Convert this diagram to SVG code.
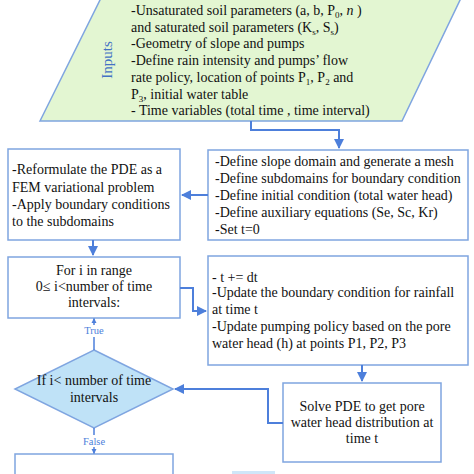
<svg xmlns="http://www.w3.org/2000/svg" width="474" height="474" viewBox="0 0 474 474">
<defs>
<style>
.box{fill:#ffffff;stroke:#7fa5e0;stroke-width:1.5}
.t{font-family:"Liberation Serif","Times New Roman",serif;font-size:14px;fill:#111}
.c{text-anchor:middle}
.sub{font-size:9px}
.conn{fill:none;stroke:#4d7fdb;stroke-width:2}
.thin{fill:none;stroke:#4d7fdb;stroke-width:1.5}
.lbl{font-family:"Liberation Serif","Times New Roman",serif;font-size:10.5px;fill:#4d7fdb;text-anchor:middle}
</style>
<marker id="ah" viewBox="0 0 10 10" refX="9" refY="5" markerWidth="5" markerHeight="5" orient="auto"><path d="M0,0 L10,5 L0,10 z" fill="#4d7fdb"/></marker>
<marker id="ahs" viewBox="0 0 10 10" refX="9" refY="5" markerWidth="3.5" markerHeight="3.5" orient="auto"><path d="M0,0 L10,5 L0,10 z" fill="#4d7fdb"/></marker>
</defs>

<g id="inputs">
<path d="M40,121 L102,-4 L462,-4 L402,121 Z" fill="#e3f6d2" stroke="#7fa5e0" stroke-width="1.5"/>
<text transform="translate(112,60) rotate(-90)" font-family="Liberation Serif, serif" font-size="15" fill="#4472c4" text-anchor="middle">Inputs</text>
<text class="t" x="131" y="15">-Unsaturated soil parameters (a, b, P<tspan class="sub" dy="3">0</tspan><tspan dy="-3">, </tspan><tspan font-style="italic">n</tspan> )</text>
<text class="t" x="131" y="32">and saturated soil parameters (K<tspan class="sub" dy="3">s</tspan><tspan dy="-3">, S</tspan><tspan class="sub" dy="3">s</tspan><tspan dy="-3">)</tspan></text>
<text class="t" x="131" y="48">-Geometry of slope and pumps</text>
<text class="t" x="131" y="65">-Define rain intensity and pumps’ flow</text>
<text class="t" x="131" y="82">rate policy, location of points P<tspan class="sub" dy="3">1</tspan><tspan dy="-3">, P</tspan><tspan class="sub" dy="3">2</tspan><tspan dy="-3"> and</tspan></text>
<text class="t" x="131" y="99">P<tspan class="sub" dy="3">3</tspan><tspan dy="-3">, initial water table</tspan></text>
<text class="t" x="131" y="115">- Time variables (total time , time interval)</text>
</g>

<g id="setup">
<rect class="box" x="208" y="150" width="260" height="90"/>
<text class="t" x="215" y="166">-Define slope domain and generate a mesh</text>
<text class="t" x="215" y="183">-Define subdomains for boundary condition</text>
<text class="t" x="215" y="200">-Define initial condition (total water head)</text>
<text class="t" x="215" y="217">-Define auxiliary equations (Se, Sc, Kr)</text>
<text class="t" x="215" y="234">-Set t=0</text>
</g>

<g id="reformulate">
<rect class="box" x="8" y="149" width="172" height="91"/>
<text class="t" x="12" y="174">-Reformulate the PDE as a</text>
<text class="t" x="12" y="192">FEM variational problem</text>
<text class="t" x="12" y="209">-Apply boundary conditions</text>
<text class="t" x="12" y="226">to the subdomains</text>
</g>

<g id="loop">
<rect class="box" x="8" y="257" width="172" height="61"/>
<text class="t c" x="94" y="275">For i in range</text>
<text class="t c" x="94" y="291">0≤ i&lt;number of time</text>
<text class="t c" x="94" y="307">intervals:</text>
</g>

<g id="update">
<rect class="box" x="208" y="256" width="260" height="109"/>
<text class="t" x="212" y="282">- t += dt</text>
<text class="t" x="212" y="297">-Update the boundary condition for rainfall</text>
<text class="t" x="212" y="314">at time t</text>
<text class="t" x="212" y="331">-Update pumping policy based on the pore</text>
<text class="t" x="212" y="348">water head (h) at points P1, P2, P3</text>
</g>

<g id="solve">
<rect class="box" x="283" y="383" width="158" height="79"/>
<text class="t c" x="362" y="411">Solve PDE to get pore</text>
<text class="t c" x="362" y="427">water head distribution at</text>
<text class="t c" x="362" y="443">time t</text>
</g>

<g id="decision">
<path d="M94,350 L173,389 L94,428 L15,389 Z" fill="#bfe2f7" stroke="#7fa5e0" stroke-width="1.5"/>
<text class="t c" x="94" y="385">If i&lt; number of time</text>
<text class="t c" x="94" y="402">intervals</text>
</g>

<g id="end">
<rect class="box" x="15" y="454" width="158" height="30"/>
<rect x="232" y="471" width="43" height="6" fill="#cfe6f8"/>
</g>

<g id="connectors">
<path class="conn" d="M251,121 V130 H339 V148" marker-end="url(#ah)"/>
<path class="conn" d="M208,195 H182" marker-end="url(#ah)"/>
<path class="conn" d="M93,240 V255" marker-end="url(#ah)"/>
<path class="conn" d="M180,288 H193 V311 H206" marker-end="url(#ah)"/>
<path class="conn" d="M362,365 V381" marker-end="url(#ah)"/>
<path class="conn" d="M283,423 H268 V389 H175" marker-end="url(#ah)"/>
<path class="thin" d="M94,350 V337"/>
<path class="thin" d="M94,325 V318.5" marker-end="url(#ahs)"/>
<text class="lbl" x="94" y="334">True</text>
<path class="thin" d="M94,428 V435"/>
<path class="thin" d="M94,447 V453.5" marker-end="url(#ahs)"/>
<text class="lbl" x="94" y="445">False</text>
</g>
</svg>
